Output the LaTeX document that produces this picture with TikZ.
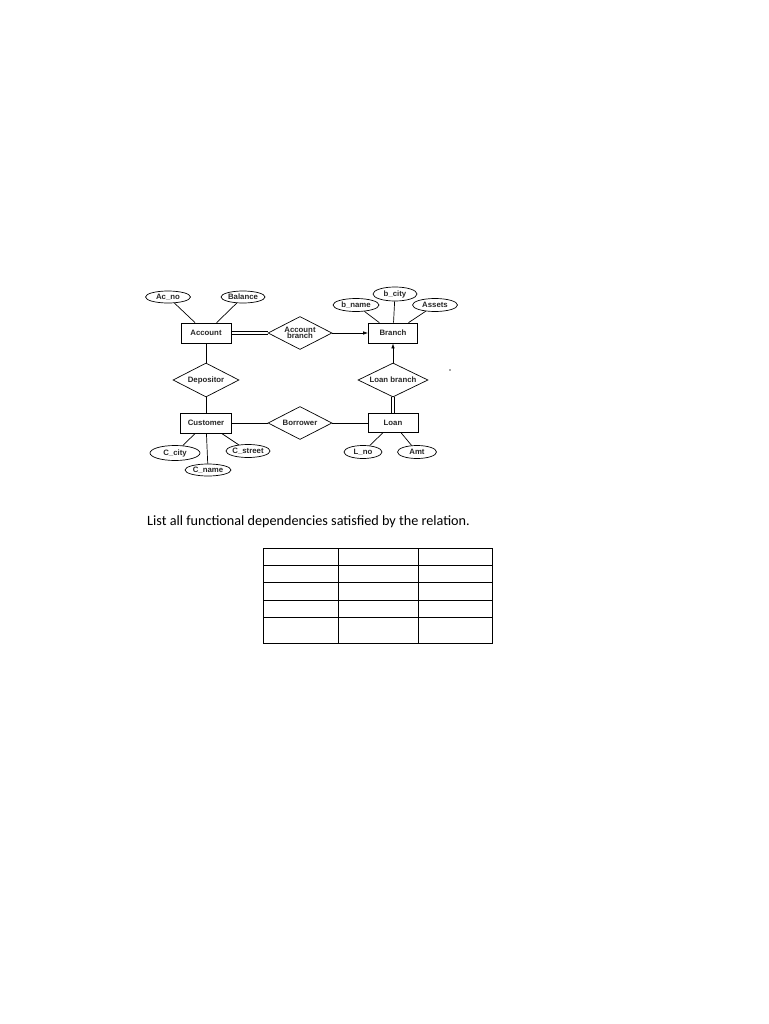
\documentclass[tikz,border=0pt]{standalone}
\usepackage{fontspec}
\setmainfont{Carlito}
\newfontfamily\erfont{Liberation Sans}
\usetikzlibrary{shapes.geometric,arrows.meta}
\begin{document}
\begin{tikzpicture}[x=1pt,y=-1pt,
  every node/.style={inner sep=0pt},
  ertext/.style={font=\erfont\fontsize{7.8}{8.5}\selectfont\bfseries, text=black!85},
  entity/.style={ertext, draw, line width=0.7pt, rectangle, minimum height=20pt},
  attr/.style={ertext, draw, line width=0.7pt, ellipse, minimum height=13pt, text height=5.4pt, text depth=1.4pt},
  rel/.style={ertext, draw, line width=0.7pt, diamond, aspect=1.9, minimum height=34pt, align=center},
  conn/.style={line width=0.7pt},
  arr/.style={line width=0.7pt, -{Latex[length=5pt,width=3.5pt]}},
  tbl/.style={line width=1pt}]
\useasboundingbox (0,0) rectangle (768,1024);
\fill[white] (0,0) rectangle (768,1024);

% entities
\node[entity, minimum width=50pt] (acc) at (206,333) {Account};
\node[entity, minimum width=49pt] (branch) at (393,333) {Branch};
\node[entity, minimum width=51pt] (cust) at (206,423) {Customer};
\node[entity, minimum width=50pt, minimum height=19pt] (loan) at (393,423) {Loan};

% relationships
\node[rel, minimum width=64pt, minimum height=33pt] (accbr) at (300,333) {Account\\[-2pt]branch};
\node[rel, minimum width=66pt] (dep) at (206,380) {Depositor};
\node[rel, minimum width=64pt, minimum height=33pt] (borr) at (300,423) {Borrower};
\node[rel, minimum width=70pt] (loanbr) at (393,380) {Loan branch};

% attributes
\node[attr, minimum width=45pt, minimum height=12pt] (acno) at (168,297) {Ac\_no};
\node[attr, minimum width=44pt, minimum height=12pt] (bal) at (243,297) {Balance};
\node[attr, minimum width=46pt] (bname) at (356,305) {b\_name};
\node[attr, minimum width=44pt, minimum height=14pt] (bcity) at (395,294) {b\_city};
\node[attr, minimum width=45pt] (assets) at (435,305) {Assets};
\node[attr, minimum width=50pt, minimum height=15pt] (ccity) at (175,453) {C\_city};
\node[attr, minimum width=43pt] (cstreet) at (248,451) {C\_street};
\node[attr, minimum width=46pt, minimum height=12pt] (cname) at (208,470) {C\_name};
\node[attr, minimum width=38pt] (lno) at (363,452) {L\_no};
\node[attr, minimum width=39pt] (amt) at (417,452) {Amt};

% connectors
\draw[conn] (acno) -- (acc);
\draw[conn] (bal) -- (acc);
\draw[conn] (bname) -- (branch);
\draw[conn] (bcity) -- (branch);
\draw[conn] (assets) -- (branch);
\draw[conn] (ccity) -- (cust);
\draw[conn] (cstreet) -- (cust);
\draw[conn] (cname) -- (cust);
\draw[conn] (lno) -- (loan);
\draw[conn] (amt) -- (loan);

% double lines (total participation)
\draw[conn] ([yshift=-1.3pt]acc.east) -- ([yshift=-1.3pt]accbr.west);
\draw[conn] ([yshift=1.3pt]acc.east) -- ([yshift=1.3pt]accbr.west);
\draw[arr] (accbr) -- (branch);
\draw[conn] (acc) -- (dep);
\draw[conn] (dep) -- (cust);
\draw[conn] (cust) -- (borr);
\draw[conn] (borr) -- (loan);
\draw[conn] ([xshift=-1.3pt]loan.north) -- ([xshift=-1.3pt]loanbr.south);
\draw[conn] ([xshift=1.3pt]loan.north) -- ([xshift=1.3pt]loanbr.south);
\draw[arr] (loanbr) -- (branch);

% stray dot
\coordinate (dot) at (450,370);
\fill[black!70] (dot) circle (0.8pt);

% sentence
\node[anchor=base west, font=\fontsize{14.2}{17}\selectfont] (q) at (147,525) {List all functional dependencies satisfied by the relation.};

% table
\draw[tbl] (263,548) rectangle (492,643);
\foreach \y in {565,582,600,617} \draw[tbl] (263,\y) -- (492,\y);
\foreach \x in {338,418} \draw[tbl] (\x,548) -- (\x,643);
\end{tikzpicture}
\end{document}
